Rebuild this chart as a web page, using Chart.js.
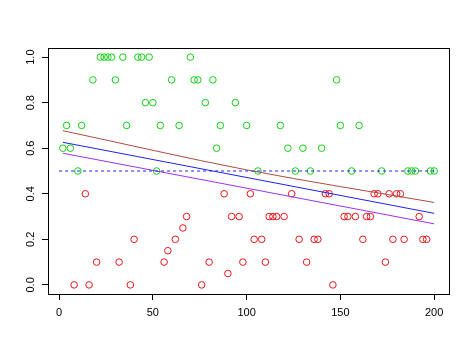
<!DOCTYPE html>
<html>
<head>
<meta charset="utf-8">
<script src="https://cdn.jsdelivr.net/npm/chart.js@4/dist/chart.umd.min.js"></script>
<style>
html,body{margin:0;padding:0;background:#fff;}
#wrap{width:474px;height:355px;}
</style>
</head>
<body>
<div id="wrap"><canvas id="c" width="474" height="355"></canvas></div>
<script>
// ---- data ----
const greenX = [2,4,6,10,12,18,22,24,26,28,30,34,36,42,44,46,48,50,52,54,60,64,70,72,74,78,82,84,86,94,100,106,118,122,126,130,134,140,148,150,156,160,172,186,188,190,198,200];
const greenY = [0.6,0.7,0.6,0.5,0.7,0.9,1,1,1,1,0.9,1,0.7,1,1,0.8,1,0.8,0.5,0.7,0.9,0.7,1,0.9,0.9,0.8,0.9,0.6,0.7,0.8,0.7,0.5,0.7,0.6,0.5,0.6,0.5,0.6,0.9,0.7,0.5,0.7,0.5,0.5,0.5,0.5,0.5,0.5];
const redX = [8,14,16,20,32,38,40,56,58,62,66,68,76,80,88,90,92,96,98,102,104,108,110,112,114,116,120,124,128,132,136,138,142,144,146,152,154,158,162,164,166,168,170,174,176,178,180,182,184,192,194,196];
const redY = [0,0.4,0,0.1,0.1,0,0.2,0.1,0.15,0.2,0.25,0.3,0,0.1,0.4,0.05,0.3,0.3,0.1,0.4,0.2,0.2,0.1,0.3,0.3,0.3,0.3,0.4,0.2,0.1,0.2,0.2,0.4,0.4,0,0.3,0.3,0.3,0.2,0.3,0.3,0.4,0.4,0.1,0.4,0.2,0.4,0.4,0.2,0.3,0.2,0.2];
// fitted curves
const brownX = [2, 100, 200];
const brownY = [0.677, 0.505, 0.362];
const blueX = [2, 200];
const blueY = [0.626, 0.314];
const purpleX = [2, 200];
const purpleY = [0.578, 0.268];
const refX = [0, 200];
const refY = [0.5, 0.5];
const xTicks = [0, 50, 100, 150, 200];
const yTicks = [0, 0.2, 0.4, 0.6, 0.8, 1.0];

function pts(xs, ys){ return xs.map((x,i)=>({x:x, y:ys[i]})); }

const FONT = '"Liberation Sans", Arial, Helvetica, sans-serif';

const boxPlugin = {
  id: 'box',
  afterDraw(chart){
    const ctx = chart.ctx, a = chart.chartArea;
    ctx.save();
    ctx.strokeStyle = '#000';
    ctx.lineWidth = 1;
    ctx.strokeRect(Math.round(a.left)+0.5, Math.round(a.top)+0.5, Math.round(a.right-a.left), Math.round(a.bottom-a.top));
    // rotated y tick labels (R style)
    const ys = chart.scales.y;
    ctx.fillStyle = '#000';
    ctx.font = '11px ' + FONT;
    ctx.textAlign = 'center';
    ctx.textBaseline = 'middle';
    ys.ticks.forEach(t => {
      const py = ys.getPixelForValue(t.value);
      ctx.save();
      ctx.translate(31, py);
      ctx.rotate(-Math.PI/2);
      ctx.fillText(t.value.toFixed(1), 0, 0);
      ctx.restore();
    });
    ctx.restore();
  }
};

new Chart(document.getElementById('c'), {
  type: 'scatter',
  data: {
    datasets: [
      {data: pts(refX, refY), showLine: true, borderColor: '#2222EE', borderWidth: 1, borderDash: [3,3], pointRadius: 0, fill: false},
      {data: pts(brownX, brownY), showLine: true, borderColor: '#B04A3E', borderWidth: 1, pointRadius: 0, fill: false, tension: 0.4, cubicInterpolationMode: 'monotone'},
      {data: pts(blueX, blueY), showLine: true, borderColor: '#1F1FF0', borderWidth: 1, pointRadius: 0, fill: false},
      {data: pts(purpleX, purpleY), showLine: true, borderColor: '#A030F0', borderWidth: 1, pointRadius: 0, fill: false},
      {data: pts(greenX, greenY), showLine: false, pointStyle: 'circle', pointRadius: 3.3, pointBorderWidth: 1, pointBorderColor: '#10D010', pointBackgroundColor: 'rgba(0,0,0,0)'},
      {data: pts(redX, redY), showLine: false, pointStyle: 'circle', pointRadius: 3.3, pointBorderWidth: 1, pointBorderColor: '#E8141A', pointBackgroundColor: 'rgba(0,0,0,0)'}
    ]
  },
  options: {
    responsive: false,
    animation: false,
    layout: {padding: {top: 48, right: 25, left: 0, bottom: 0}},
    plugins: {legend: {display: false}, tooltip: {enabled: false}},
    scales: {
      x: {
        type: 'linear', min: -5.92, max: 207.92,
        afterBuildTicks: s => { s.ticks = xTicks.map(v => ({value: v})); },
        afterFit: s => { s.height = 61; },
        grid: {display: true, drawOnChartArea: false, drawTicks: true, tickLength: 6, color: '#000', lineWidth: 1},
        border: {display: true, color: '#000'},
        ticks: {color: '#000', font: {family: FONT, size: 11}, padding: 6, maxRotation: 0, autoSkip: false}
      },
      y: {
        type: 'linear', min: -0.04, max: 1.04,
        afterBuildTicks: s => { s.ticks = yTicks.map(v => ({value: v})); },
        afterFit: s => { s.width = 48; },
        grid: {display: true, drawOnChartArea: false, drawTicks: true, tickLength: 6, color: '#000', lineWidth: 1},
        border: {display: true, color: '#000'},
        ticks: {color: '#000', callback: () => '', autoSkip: false}
      }
    }
  },
  plugins: [boxPlugin]
});
</script>
</body>
</html>
